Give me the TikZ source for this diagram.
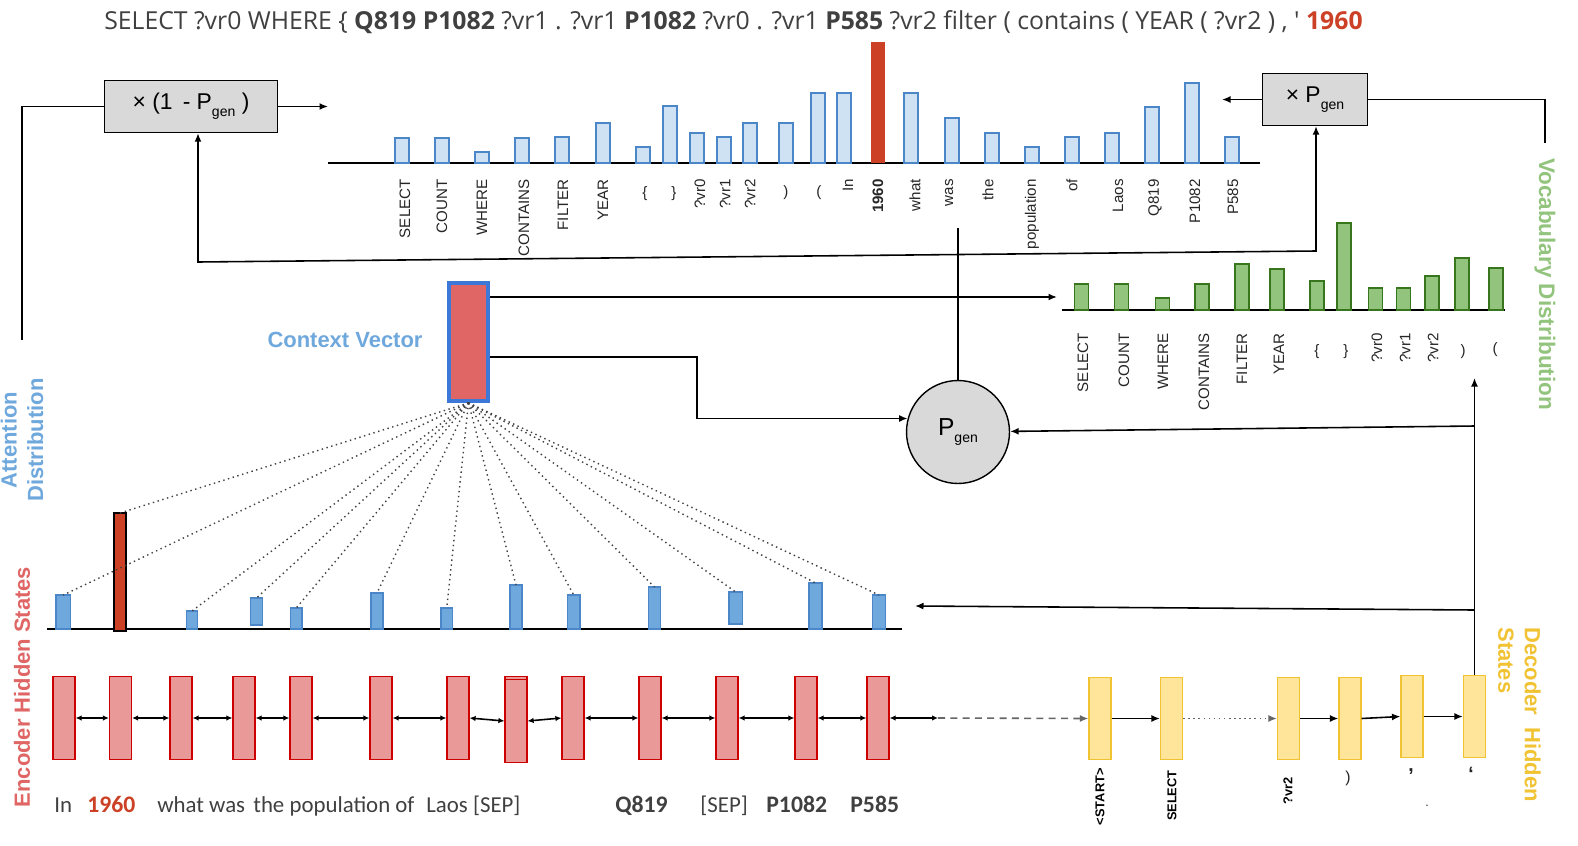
\documentclass[tikz,border=0pt]{standalone}
\usepackage{fontspec}
\setmainfont{Carlito}
\newfontfamily\arialf{Liberation Sans}
\newfontfamily\osans{Open Sans}
\usetikzlibrary{arrows.meta}
\definecolor{txt}{HTML}{404040}
\definecolor{lblue}{HTML}{CFE2F3}
\definecolor{mblue}{HTML}{4A86C8}
\definecolor{ablue}{HTML}{6FA8DC}
\definecolor{bred}{HTML}{CC4125}
\definecolor{gfill}{HTML}{93C47D}
\definecolor{gdraw}{HTML}{38761D}
\definecolor{efill}{HTML}{EA9999}
\definecolor{edraw}{HTML}{CC0000}
\definecolor{dfill}{HTML}{FFE599}
\definecolor{ddraw}{HTML}{F1C232}
\definecolor{cfill}{HTML}{E06666}
\definecolor{cdraw}{HTML}{3C78D8}
\definecolor{boxg}{HTML}{D9D9D9}
\definecolor{lbblue}{HTML}{6FA8DC}
\definecolor{lbred}{HTML}{E06666}
\definecolor{lbgreen}{HTML}{93C47D}
\definecolor{lbgold}{HTML}{F1C232}
\newcommand\gensub{\raisebox{-0.6ex}{\fontsize{8}{9}\selectfont gen}}
\begin{document}
\begin{tikzpicture}[x=0.02cm,y=-0.02cm,
  conn/.style={line width=0.9pt,black},
  arr/.style={conn,-{Latex[length=1.7mm,width=1.4mm]}},
  dbl/.style={conn,{Latex[length=1.2mm,width=1.1mm]}-{Latex[length=1.2mm,width=1.1mm]}},
  topbar/.style={draw=mblue,fill=lblue,line width=0.8pt},
  grnbar/.style={draw=gdraw,fill=gfill,line width=0.8pt},
  attbar/.style={draw=mblue,fill=ablue,line width=0.6pt},
  lblf/.style={font=\arialf\fontsize{8.6}{10}\selectfont,text=black!85,inner sep=0pt},
  toplbl/.style={lblf,rotate=90,anchor=east},
  enc/.style={draw=edraw,fill=efill,line width=0.7pt,minimum width=0.44cm,minimum height=1.66cm,inner sep=0pt},
  dec/.style={draw=ddraw,fill=dfill,line width=0.7pt,minimum width=0.44cm,minimum height=1.64cm,inner sep=0pt},
  gbox/.style={draw=black,fill=boxg,line width=0.8pt,inner sep=0pt,font=\arialf\fontsize{13}{15}\selectfont},
  biglbl/.style={font=\arialf\bfseries\fontsize{12.5}{15}\selectfont,inner sep=0pt,align=center},
  declbl/.style={font=\arialf\bfseries\fontsize{7.3}{9}\selectfont,inner sep=0pt,rotate=90,anchor=east},
  dots/.style={line width=0.8pt,dotted,black!75},
  btxt/.style={anchor=base west,inner sep=0pt,text=txt,font=\fontsize{13}{15}\selectfont},
  bbold/.style={btxt,font=\bfseries\fontsize{13.5}{15}\selectfont},
]
\useasboundingbox (0,0) rectangle (1578,845);
\fill[white] (0,0) rectangle (1578,845);

% ---------- title ----------
\node[btxt,font=\osans\fontsize{14.1}{16}\selectfont] (title) at (104,30) {SELECT ?vr0 WHERE \{ \textbf{Q819 P1082} ?vr1 . ?vr1 \textbf{P1082} ?vr0 . ?vr1 \textbf{P585} ?vr2 filter ( contains ( YEAR ( ?vr2 ) , \textquotesingle\ \textcolor{bred}{\textbf{1960}}};

% ---------- top (copy) distribution ----------
\draw[conn] (328,163) -- (1260,163);
\foreach \cx/\ty in {402/138,442/138,482/152,522/138,562/137,603/123,643/147,670/106,697/133,724/137,750/123,786/123,818/93,844/93,911/93,952/118,992/133,1032/147,1072/137,1112/133,1152/107,1192/83,1232/137}
  \draw[topbar] ({\cx-7},163) rectangle ({\cx+7},\ty);
\fill[bred] (871,163) rectangle (885,42);
\foreach \lx/\t [count=\i] in {405/SELECT,442/COUNT,482/WHERE,524/CONTAINS,563/FILTER,603/YEAR,700/?vr0,725/?vr1,750/?vr2,848/In,915/what,949/was,988/the,1032/population,1072/of,1118/Laos,1155/Q819,1195/P1082,1233/P585}
  \node[toplbl] (tl\i) at (\lx,179) {\t};
\node[toplbl,font=\arialf\bfseries\fontsize{8.6}{10}\selectfont] (tl1960) at (878,179) {1960};
\node[lblf] (tlb1) at (645,194) {\{};
\node[lblf] (tlb2) at (674,194) {\}};
\node[lblf] (tlb3) at (786,193) {)};
\node[lblf] (tlb4) at (819,193) {(};

% ---------- vocabulary distribution ----------
\draw[conn] (1062,310) -- (1505,310);
\foreach \cx/\ty in {1081.5/284,1121.5/284,1162.5/298,1202/284,1242/264,1277/269,1317/281,1344/223,1375.5/288,1403.5/288,1432/276,1462/258,1496/268}
  \draw[grnbar] ({\cx-7},310) rectangle ({\cx+7},\ty);
\foreach \lx/\t [count=\i] in {1083/SELECT,1124/COUNT,1163/WHERE,1204/CONTAINS,1242/FILTER,1279/YEAR,1377/?vr0,1405/?vr1,1433/?vr2}
  \node[toplbl] (gl\i) at (\lx,333) {\t};
\node[lblf] (glb1) at (1317,352) {\{};
\node[lblf] (glb2) at (1346,352) {\}};
\node[lblf] (glb3) at (1463,352) {)};
\node[lblf] (glb4) at (1495,350) {(};

% ---------- boxes ----------
\node[gbox,minimum width=3.46cm,minimum height=1.04cm] (b1) at (191,106.5) {× (1 \,- P\gensub\ )};
\node[gbox,minimum width=2.1cm,minimum height=1.04cm] (b2) at (1315,99.5) {× P\gensub};
\coordinate (attl) at (22,340);
\coordinate (b1o) at (328,106.5);
\coordinate (b2o) at (1222,99.5);
\coordinate (vr) at (1545,143);
\draw[conn] (b1.west) -| (attl);
\draw[arr] (b1.east) -- (b1o);
\draw[arr] (b2.west) -- (b2o);
\draw[conn] (b2.east) -| (vr);
\coordinate (hl) at (198,262);
\coordinate (hr) at (1316,251);
\draw[conn,{Latex[length=1.7mm,width=1.4mm]}-{Latex[length=1.7mm,width=1.4mm]}] (hl |- b1.south) -- (hl) -- (hr) -- (hr |- b2.south);

% ---------- context vector and p_gen ----------
\node[draw=cdraw,fill=cfill,line width=2.2pt,minimum width=0.78cm,minimum height=2.36cm,inner sep=0pt] (cv) at (468.5,342) {};
\node[biglbl,text=lbblue] (cvl) at (345,340) {Context Vector};
\node[circle,draw=black,fill=boxg,line width=0.8pt,minimum size=2.06cm,inner sep=0pt,font=\arialf\fontsize{14}{16}\selectfont] (P) at (958,432) {P\gensub};
\coordinate (ga) at (1057,297);
\draw[arr] (cv.east |- ga) -- (ga);
\draw[arr] (cv.east |- 0,357) -- (697,357) |- (P.165);
\coordinate (pv) at (958,228);
\draw[conn] (P.north) -- (pv);

% ---------- attention distribution ----------
\draw[conn,line width=1.1pt] (47,629) -- (902,629);
\foreach \l/\r/\t/\b [count=\i] in {56/70.5/595/629,114/126/513/629,186.5/197.5/611/629,250.5/262.5/598/625,290.5/302/608/629,371/383/593/629,441/452.5/608/629,510/522/585/629,567.5/580/595/629,648.5/660.5/587/629,729/742.5/592/624,809/822/583/629,872.5/885.5/595/629}
  {\coordinate (a\i) at ({(\l+\r)/2},\t);
   \ifnum\i=2 \draw[fill=bred,draw=black,line width=0.8pt] (\l,631) rectangle (\r,\t);
   \else \draw[attbar] (\l,\b) rectangle (\r,\t); \fi}
\foreach \i in {1,...,13} \draw[dots] (cv.south) -- (a\i);

% ---------- encoder ----------
\foreach \x [count=\i] in {64,120.5,181,244,301,381,458,516,573,650,727,806,878}
  \node[enc] (e\i) at (\x,718) {};
\path (e8) ++(0,3) node[enc] (e8) {};
\foreach \i [evaluate=\i as \j using int(\i+1)] in {1,...,12}
  \draw[dbl] (e\i.east) -- (e\j.west);

% ---------- decoder ----------
\foreach \x/\y [count=\i] in {1100/718.5,1171.5/718.5,1288.5/718.5,1350/718.5,1412/716.5,1474.5/716.5}
  \node[dec] (d\i) at (\x,\y) {};
\coordinate (ed) at (938,718);
\draw[dbl] (e13.east) -- (ed);
\draw[arr,dash pattern=on 4pt off 3pt,black!60] (ed) -- (d1.west);
\draw[arr] (d1.east) -- (d2.west);
\draw[arr,dotted,black!60] (d2.east) -- (d3.west);
\draw[arr] (d3.east) -- (d4.west);
\draw[arr] (d4.east) -- (d5.west);
\draw[arr] (d5.east) -- (d6.west);
\coordinate (vt) at (1474.5,378);
\coordinate (ah) at (915,606);
\draw[arr] (d6.north) -- (vt);
\draw[arr] (d6.north |- 0,426) -- (P);
\draw[arr] (d6.north |- 0,610) -- (ah);
\node[declbl] (dl1) at (1100,768) {<START>};
\node[declbl] (dl2) at (1172,770) {SELECT};
\node[declbl] (dl3) at (1288,777) {?vr2};
\node[lblf,font=\arialf\fontsize{9}{10}\selectfont] (dl4) at (1348,778) {)};
\node[lblf,font=\arialf\bfseries\fontsize{11}{11}\selectfont] (dl5) at (1411,772) {,};
\node[lblf,font=\arialf\bfseries\fontsize{11}{11}\selectfont] (dl6) at (1471,774) {‘};
\node[lblf,font=\arialf\fontsize{7}{8}\selectfont] (dl7) at (1427,806) {.};

% ---------- side labels ----------
\node[biglbl,text=lbblue,rotate=90] (attlbl) at (22,440) {Attention\\Distribution};
\node[biglbl,text=lbred,rotate=90] (enclbl) at (22,687) {Encoder Hidden States};
\node[biglbl,text=lbgreen,rotate=-90,font=\arialf\bfseries\fontsize{12.8}{15}\selectfont] (voclbl) at (1545,284) {Vocabulary Distribution};
\node[biglbl,text=lbgold,rotate=-90,anchor=north west,align=left] (declbl) at (1541,627) {Decoder\ \ Hidden\\States};

% ---------- bottom text ----------
\node[btxt] (w1) at (54,812) {In};
\node[btxt,text=bred,font=\bfseries\fontsize{13.5}{15}\selectfont] (w2) at (87,812) {1960};
\node[btxt] (w3) at (157,812) {what was};
\node[btxt] (w4) at (253,812) {the population of};
\node[btxt] (w5) at (426,812) {Laos [SEP]};
\node[bbold] (w6) at (615,812) {Q819};
\node[btxt] (w7) at (700,812) {[SEP]};
\node[bbold] (w8) at (766,812) {P1082};
\node[bbold] (w9) at (850,812) {P585};
\end{tikzpicture}
\end{document}
